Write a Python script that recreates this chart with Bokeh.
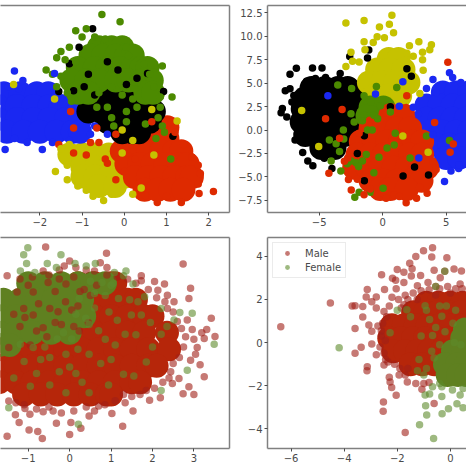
from bokeh.plotting import figure
from bokeh.layouts import gridplot
from bokeh.models import LinearAxis, FixedTicker, Range1d, Legend, LegendItem
from bokeh.embed import file_html
from bokeh.resources import INLINE

# ---- Panel A (top left): dense masses (y -> x values) and individually read points
a_yellow_core = {-1.09: [-1.30, -.99, -.68, -.37], -1.40: [-.99, -.68, -.37, -.06], -1.62: [-.99, -.68, -.37, .02], -1.85: [-.60, -.22]}
a_red_core = {-.43: [1.02], -.70: [.09, .40, .71, 1.02], -1.01: [-.06, .25, .56, .87, 1.18, 1.35],
              -1.32: [.05, .36, .67, .98, 1.29, 1.5], -1.63: [.25, .56, .87, 1.18, 1.49, 1.6], -1.94: [.48, .79, 1.09, 1.40]}
a_blue_core = {.39: [-3.0, -2.85, -2.46, -2.07, -1.8], .08: [-3.0, -2.54, -2.15, -1.77, -1.5, -1.3],
               -.23: [-3.0, -2.54, -2.15, -1.77, -1.38, -1.04], -.54: [-2.78, -2.39, -2.0, -1.61, -1.22, -1.05]}
a_black_core = {.45: [-.25, .1, .45], .2: [-.8, -.45, -.1, .2, .55], -.05: [-.85, -.55, -.25, .1, .4, .7], -.3: [-.4, -.1, .25, .6], -.55: [-.05, .2, .35]}
a_green_core = {1.5: [-.6, -.3, -.05], 1.3: [-.8, -.5, -.2, .05, .2], 1.0: [-1.1, -.7, -.4, -.1, .2, .4, .55],
                .7: [-1.25, -.9, -.6, -.2, .1, .4, .65], .4: [-1.1, -.85, .5, .68]}
a_green_pts = [(-.53, 2.29), (-.10, 2.12), (.90, 1.05), (1.13, .30), (-1.15, 1.9), (-1.0, 1.75), (-.9, 1.95), (-1.5, 1.4), (-1.6, 1.25), (-1.3, 1.5),
               (-1.4, 1.2), (-1.15, 1.15), (-1.85, .95), (-1.7, .85), (-1.5, .8), (-1.6, .55), (-1.35, .4), (-1.25, .2), (-.7, 1.75), (-.45, 1.7),
               (0, 1.68), (.05, 1.5), (.1, 1.3), (.47, 1.1), (.6, .85), (.7, .55), (.85, .3), (.85, .05), (.8, -.2), (.9, -.4), (-.25, -.4), (.5, -.35),
               (.95, -.55), (1.1, -1.2), (.75, -.7), (-.65, .05), (-.4, .05), (-.3, -.2), (.05, -.05), (.3, .05), (-.05, .35), (.2, .25), (.05, -.3), (-.6, .4), (-.3, .55), (.25, .5)]
a_black_pts = [(-.75, 1.95), (-1.07, 1.5), (-1.3, 1.1), (-.15, .95), (.55, .87), (.93, .43), (-1.55, .43), (-1.2, .45), (.47, -.58), (1.15, -.65), (-.95, .55), (-.7, .35), (-.4, 1.15), (-.85, .85), (.3, .75), (.05, .6)]
a_blue_pts = [(-2.6, .93), (-2.4, .7), (-1.65, .87), (-2.6, -.7), (-2.82, -.97), (-1.94, -.97), (-2.3, -.8), (-1.7, -.8), (-.4, -.6), (-.8, -.6), (-.7, -.4), (-1.3, -.75), (-2.75, .55), (-2.5, .5)]
a_red_pts = [(2.11, -1.98), (1.77, -2.03), (.78, -2.25), (1.35, -2.25), (.5, -2.08), (1.0, -2.1), (1.75, -1.8), (1.8, -1.55), (1.75, -1.35), (1.6, -1.15), (1.4, -.85),
             (1.2, -.55), (1.1, -.3), (.65, -.3), (-.65, -.45), (-1.27, -.05), (-1.2, -.45), (-.6, -.8), (-.8, -.8), (-.45, -1.2), (-.4, -1.3), (0, -1.5), (-.2, -1.7),
             (-.9, -1.1), (-1.2, -1.05), (-1.55, -.85), (-.2, -.6), (.25, -1.2)]
a_yellow_pts = [(-2.62, .6), (-1.63, -1.5), (-.74, -2.1), (-.49, -2.2), (.2, -2.05), (.4, -1.9), (1.25, -.28), (.2, -.75), (-.05, -1.05), (-.05, -.5), (-1.5, -.95), (-1.35, -1.35),
                (-1.3, -.85), (-1.35, -1.7), (-1.1, -1.85), (-.9, -1.95), (-.3, -2.05), (.7, -1.1), (.65, 0), (-1.65, .25)]

# ---- Panel B (top right)
b_black_core = {4.5: [-5.6, -4.57, -3.54, -2.76], 3.4: [-6.12, -5.09, -4.06, -3.02, -1.99], 2.27: [-6.3, -5.87, -4.83, -3.8, -2.76, -1.73],
                .87: [-6.38, -5.35, -4.32, -3.28, -2.25], -.52: [-6.1, -5.09, -4.06, -3.02], -1.92: [-4.83, -3.8]}
b_yellow_core = {7.6: [.47, 1.24], 6.47: [-.44, .59, 1.63], 5.07: [-1.09, -.05, .98, 2.02], 3.67: [-.7, .34, 1.37]}
b_blue_core = {4.02: [4.73, 5.76, 6.8], 2.62: [3.44, 4.47, 5.5, 6.54], 1.22: [3.44, 4.47, 5.5, 6.54], -.17: [3.7, 4.73, 5.76, 6.8], -1.57: [4.21, 5.25, 6.28], -2.97: [4.99, 6.02, 7.05]}
b_green_core = {2.4: [-.96, .05], 1.5: [-1.2]}
b_red_core = {1.57: [.6, 1.63], .17: [-.96, .08, 1.11, 2.15], -1.22: [-1.73, -.7, .34, 1.37, 2.4, 3.1], -2.62: [-1.99, -.96, .08, 1.11, 2.15, 3.1],
              -4.02: [-2.25, -1.21, -.18, .85, 1.89, 2.92, 3.5], -5.42: [-.96, .08, 1.11, 2.15, 3.05], -6.3: [-.2, .6, 1.89]}
b_black_pts = [(-6.8, 6.6), (-7.3, 5.95), (-5.53, 6.64), (-4.78, 6.64), (-7.67, 4.2), (-7.3, 4.4), (-7.9, 2.3), (-8.0, 1.85), (-7.55, 1.4), (-7, 3.7), (-7.15, 3), (-7, 1.05),
               (-6.9, -1.05), (-6.3, -2.4), (-5.9, -3.3), (-5.5, -3.8), (-4.6, -3), (-4, -4.1), (-3.35, 6.05), (-2.6, 7.85), (-1.2, 7.7), (-1.1, 8.55), (1.9, 6.55), (2.25, 5.75),
               (.6, 2.5), (-1.45, -.6), (-2, -2.5), (-1.45, -5.4), (2.5, -3.95), (3.6, -4.8), (1.6, -4.9), (-6.4, 3.0), (-6.6, 1.4), (-6.3, -.2), (-6.0, 5.2), (-4.5, 5.6), (-5.3, 5.5)]
b_yellow_pts = [(-2.9, 11.43), (-1.47, 11.7), (.72, 12.27), (-.26, 11), (.52, 11.3), (.85, 10.4), (.13, 9.86), (-.44, 9.96), (-1.47, 9.44), (-.75, 9.34), (-1.4, 8.57), (-2.5, 8.3),
                (-2.9, 6.8), (-2.38, 7.34), (-1.86, 7.27), (2.84, 9.44), (2.1, 9), (3.83, 9.1), (3.7, 8.57), (3.13, 8.3), (3.13, 7.5), (1.9, 8.2), (2.4, 7.87), (3.18, 6.4),
                (1.63, 3.15), (2.92, 3.9), (1.58, -.63), (3.57, -2.38), (-5.04, -1.75), (-6.38, 2.1)]
b_green_pts = [(-3.54, 4.8), (-2.45, 4.44), (-.5, 4.65), (1.1, 4.55), (-1.47, 3.67), (-.96, 2.97), (-.18, 2.6), (.6, 1.92), (-2.5, 1.75), (-2.25, .87), (-1.47, 1.57), (-.7, 1.57),
               (-3.1, 0), (-4.2, -1.05), (-3.07, -.94), (-3.67, -1.47), (-4.06, -3.3), (-3.3, -4.37), (-2.2, -7.17), (-1.86, -6.64), (-.96, -6.64), (.03, -6.2), (-.7, -4.55),
               (-2.1, -3.5), (-1.6, -3.3), (-2.5, -3.3), (-1.2, 0), (-.83, 0), (.98, -.35), (.34, -1.92), (3.44, -.63), (2.15, -2.97), (5.25, -1.1), (-2.8, -3.6), (-1.9, -3.9), (-1.3, -2.6), (-.3, -2.9), (.9, -1.6), (-1.6, 1.0), (-.4, 1.2), (-3.4, -2.3)]
b_blue_pts = [(5.25, 6.12), (5.5, 5.6), (6.15, 5.07), (3.95, 5.4), (3.44, 4.44), (4.21, 4), (-4.32, 3.67), (-.57, 3.85), (1.58, 5.17), (1.3, 2.55), (2.4, 2.45), (2.84, -2.97),
              (4.86, -5.49), (5.37, -4.37), (5.97, -4.09), (3.95, -.5), (2.8, 1.75), (6.0, -3.7)]
b_red_pts = [(5.12, 7.24), (-4.24, -4.6), (-2.7, -5.28), (-2.48, -6.4), (1.84, -7.76), (.26, -7.27), (2.66, -7.27), (3.49, -6.75), (-1.47, -6.9), (-.44, -6.8), (-2, -5.24), (4.2, -4.2),
             (3.95, -3.32), (-4.5, 1.22), (-3.2, 2.2), (4.08, .8), (5.3, -2.38), (5.55, -1.5), (-3.4, -.87), (-2.76, -2.97), (-3.02, -3.32), (1.89, 3.67), (-1.86, -.35), (.9, -6.9), (1.3, -7.1), (-1.0, -6.3), (2.9, -6.1)]

# ---- Panel C (bottom left)
c_male_core = {1.4: [.2, .6, 1.0, 1.1], 1.0: [-.2, .2, .6, 1.0, 1.4, 1.6], .6: [.2, .6, 1.0, 1.4, 1.8, 2.0], .2: [-.6, -.2, .2, .6, 1, 1.4, 1.8, 2.35],
               -.2: [-1.7, -1.3, -.9, -.5, -.1, .3, .7, 1.1, 1.5, 1.9, 2.4], -.6: [-1.7, -1.3, -.9, -.5, -.1, .3, .7, 1.1, 1.5, 1.9, 2.1],
               -1.0: [-1.7, -1.3, -.9, -.5, -.1, .3, .7, 1.1, 1.5, 1.7], -1.3: [-1.1, -.7, -.3, .1, .5, .9, 1.0]}
c_female_core = {1.4: [-1.0, -.6, -.2, .2, .55, .85], 1.0: [-1.6, -1.2, -.8, -.4, -.1, .3], .6: [-1.7, -1.3, -.9, -.5, -.1, .35], .2: [-1.7, -1.3, -.9, -.45, 0], -.1: [-1.7, -1.45]}
c_male_pts = [(-.58, 2.28), (.89, 2.13), (2.74, 1.87), (2.92, 1.28), (2.88, 1.03), (3.42, .55), (3.31, .28), (3.51, .11), (3.19, .2), (3.25, .06), (3, .04), (3.08, -.16), (3.04, -.32),
              (2.92, -.47), (3.15, -.58), (3.25, -.87), (2.88, -1.11), (2.74, -1.28), (3, -1.3), (2.48, -1.03), (2.64, -.91), (2.44, -.75), (2.19, -1.38), (1.93, -1.44), (1.53, -1.7),
              (1.28, -2.07), (1.02, -1.76), (.7, -1.58), (.47, -1.82), (.27, -2.12), (.03, -1.98), (0, -2.27), (-.32, -2), (-.64, -1.72), (-.66, -2.37), (-.77, -2.2), (-.98, -2.16),
              (-1.22, -1.98), (-1.51, -2.31), (-1.31, -1.79), (-.96, -1.78), (-1.08, -1.64), (-1.47, -1.46), (-.4, -1.7), (1.34, -1.5), (1.73, 1.58), (2.05, 1.44), (2.29, 1.38), (2.13, 1.23),
              (2.36, 1.11), (2.52, .95), (2.36, .79), (2.6, .47), (2.84, .51), (2.96, .28), (.74, 1.9), (.9, 1.78), (0, 1.94), (-.13, 1.82), (-1.51, 1.58), (-.64, 1.7), (1.73, 1.46),
              (-1.08, .57), (-.64, .32), (-.52, 1.42), (-1.27, 1.19), (-.88, .63), (-.28, .71), (.23, .24), (-1.11, .79), (-1.47, -.16), (-.8, .24), (-.48, .79), (-.09, 1.38), (-.88, 1.19),
              (-1.3, -1.5), (-1.1, -1.55), (-.8, -1.65), (-.5, -1.6), (-.2, -1.75), (.1, -1.7), (.4, -1.6), (.6, -1.7), (.85, -1.55), (1.1, -1.45), (1.3, -1.3), (1.5, -1.35), (1.7, -1.3),
              (1.85, -1.2), (2.05, -1.15), (2.25, -1.0), (2.4, -.9), (2.5, -.55), (2.65, -.4), (2.75, -.15), (2.8, .1), (2.7, .3), (2.5, .7), (2.3, .95), (2.1, 1.05), (1.9, 1.25), (1.6, 1.4),
              (1.4, 1.5), (1.15, 1.55), (.9, 1.6), (.6, 1.7), (.4, 1.72), (.15, 1.78), (-.25, 1.72), (-.5, 1.6), (-.9, 1.55), (-1.2, 1.5),
              (-.1, .95), (-.35, 1.2), (-.75, .9), (-1.2, .35), (-.55, .1), (-1.35, .65), (-1.0, 1.35), (-.25, 1.5), (.1, 1.55), (.35, 1.25), (.05, .75), (-.2, .4), (-.95, -.1),
              (.5, 1.1), (.2, .85), (.45, .45), (.1, .35), (.65, 1.35), (.25, 1.2), (-.35, .45)]
c_female_pts = [(-1.01, 2.26), (-1.11, 2.09), (-.21, 2.09), (-1.04, 1.88), (-.54, 1.88), (.13, 1.88), (.62, 1.88), (.4, 1.82), (1.08, 1.66), (1.36, 1.7), (1.3, 1.58), (1.53, 1.38),
                (1.81, 1.07), (2.21, .79), (2.66, .69), (2.96, .67), (2.52, .51), (3.49, -.08), (2.84, -.71), (2.21, -1.2), (.21, -2.02), (-1.47, -1.62), (-1.19, 1.7), (-.84, 1.66), (-.32, 1.78),
                (1.3, -.81), (1.85, -.51), (-.09, -1.26), (-.48, -1.07), (.15, -.79), (.47, -1.26), (0, -.63), (-.8, -.79), (.94, -1.07), (.86, .04), (.47, -.32), (.47, .4), (1.34, .16),
                (1.49, .63), (1.73, .63), (.86, 1.1), (1.18, 1.03), (.78, 1.42), (.23, 1.03), (.39, .55), (-.09, -.32), (-.48, -.4), (-.88, -.16), (-1.19, -.08), (2.21, .16), (1.0, 1.35), (.6, .8), (.05, .05), (-.3, .05),
                (.95, .7), (1.15, .5), (.7, .25), (.15, .65), (.6, 1.15), (1.45, 1.0), (1.65, .95), (1.95, .45), (1.6, .15), (1.1, -.1), (.75, -.55), (.2, -.2), (-.25, -.75), (-.7, -.45), (-1.1, -.5),
                (-1.35, -.9), (-.95, -1.1), (.3, -1.0), (1.0, -.45), (1.55, -.85), (2.0, -.15), (2.35, .35), (1.05, 1.4), (.5, 1.45), (-.15, .2), (-.6, -.15)]

# ---- Panel D (bottom right)
d_male_core = {1.85: [-.9, -.45, 0, .45], 1.4: [-1.4, -.95, -.5, -.05, .4], .8: [-2.2, -1.75, -1.3, -.85, -.4, .05, .5], .2: [-2.3, -1.85, -1.4, -.95, -.5, -.05, .4],
               -.4: [-2.15, -1.7, -1.25, -.8, -.35, 0], -1.0: [-1.5, -1.05, -.6, -.15]}
d_female_core = {.6: [.55], .2: [.45], -.4: [.1, .5], -1.0: [-.2, .25, .6], -1.5: [-.1, .3, .6]}
d_male_pts = [(-6.39, .73), (-4.52, 1.83), (-3.7, 1.7), (-3.59, 1.71), (-3.3, 1.67), (-2.96, 1.89), (-3.13, 2.46), (-3.17, 2.11), (-2.79, 2.11), (-2.59, 3.14), (-2.48, 2.46), (-2.18, 2.98),
              (-2.06, 2.89), (-2, 3.39), (-1.75, 3.26), (-1.53, 3.68), (-1.44, 3.42), (-1.3, 3.99), (-1.01, 4.26), (-.67, 4.4), (-.7, 3.97), (-.13, 3.93), (-.61, 3.35), (.14, 3.41), (.42, 3.32),
              (-.21, 3.3), (-1.12, 3.11), (-1.47, 3.08), (-1.75, 2.78), (-.84, 2.78), (-.38, 3), (.37, 2.71), (-.55, 2.6), (-3.59, .65), (-3.3, 1.18), (-3.07, .82), (-2.96, .52), (-2.96, -.07),
              (-3.36, -.22), (-3.59, -.49), (-2.79, -.57), (-2.5, -1.04), (-3.13, -1.12), (-3.14, -1.31), (-2.3, -1.61), (-2.27, -1.83), (-2.21, -2.08), (-2.04, -2.44), (-2.52, -2.75), (-2.53, -3.18),
              (-1.7, -4.17), (-.61, -2.83), (-1.07, -2.16), (-1.62, -1.83), (-1.93, -1.5), (-2.44, -.79), (-2.73, .77), (-2.5, 1.44), (-2.79, 1.6), (-2.04, 2.49), (-1.7, 2.19), (-1.24, 2.63),
              (-2.6, .3), (-2.55, .9), (-2.4, 1.2), (-2.3, 1.7), (-2.2, 2.1), (-1.95, 2.0), (-1.85, 1.6), (-1.6, 2.0), (-1.4, 2.3), (-1.1, 2.4), (-.8, 2.45), (-.4, 2.5), (-.1, 2.6), (.2, 2.5), (.45, 2.5),
              (-2.65, -.2), (-2.5, -.5), (-2.35, -.9), (-2.1, -1.0), (-1.9, -1.2), (-1.7, -1.5), (-1.6, -1.2), (-1.3, -1.9), (-1.0, -1.9), (-.8, -1.85), (-2.45, .1), (-2.6, .55), (-1.75, 1.75), (-1.25, 2.0), (-.55, 2.2), (0, 2.3)]
d_female_pts = [(-4.19, -.24), (-.63, -4.45), (-1.16, -3.81), (-.89, -3.36), (-.93, -2.93), (-.31, -3.3), (-.07, -3.07), (.25, -2.84), (.48, -3.02), (-.32, -2.5), (-.78, -2.38), (-.95, -2.43),
                (-.67, -2.05), (-.32, -2.05), (.08, -2.2), (.37, -2.43), (.48, -2.13), (-1.24, -1.31), (-.61, -.71), (-.21, 3.3), (-.55, 2.6), (-.95, 1.71), (-1.64, 1.52), (-2.27, .45), (-1.18, -.79),
                (-.78, 1.07), (-.32, 1.22), (-.67, .33), (-.2, .5), (.1, .9), (-1.0, -1.5), (-.4, -1.9), (.2, 1.5), (.4, -.1),
                (-1.1, .3), (-.9, 1.5), (-.4, -.1), (-.7, -.4), (-1.5, 1.2), (-2.0, 1.5), (-.4, 1.7), (-.9, -1.2), (-.15, 1.7), (.15, 0), (-.55, .7)]

# ---- Axis ticks
a_xticks = [-2, -1, 0, 1, 2]
b_xticks = [-5, 0, 5]
b_yticks = [-7.5, -5.0, -2.5, 0.0, 2.5, 5.0, 7.5, 10.0, 12.5]
c_xticks = [-1, 0, 1, 2, 3]
d_xticks = [-6, -4, -2, 0]
d_yticks = [-4, -2, 0, 2, 4]

BLUE, GREEN, RED, YEL, BLK = "#1a28f2", "#4c8a00", "#de2a00", "#c6c200", "#000000"
MALE, FEMALE = "#a01f18", "#5e8a2c"
MALE_C, FEMALE_C = "#b6260a", "#5f8020"
FRAME, TICK = "#808080", "#4a4a4a"
CORE, SMALL = 24, 7.5


def rows(d):
    return [x for y in d for x in d[y]], [y for y in d for x in d[y]]


def label(v):
    return str(v).replace("-", "\u2212")


def panel(w, h, xr, yr, xt, yt, borders):
    l, r, t, b = borders
    p = figure(width=w, height=h, output_backend="svg", toolbar_location=None,
               x_range=Range1d(*xr), y_range=Range1d(*yr),
               x_axis_location=None, y_axis_location=None,
               min_border_left=l, min_border_right=r, min_border_top=t, min_border_bottom=b)
    p.grid.visible = False
    p.outline_line_color = None
    p.background_fill_color = "white"

    def axis(ticks, side):
        a = LinearAxis(ticker=FixedTicker(ticks=ticks), axis_line_color=FRAME, axis_line_width=1.5,
                       major_tick_line_color=TICK, major_tick_in=0, major_tick_out=3,
                       minor_tick_line_color=None, major_label_text_color=TICK,
                       major_label_text_font="DejaVu Sans", major_label_text_font_size="10px",
                       major_label_standoff=2,
                       major_label_overrides={v: label(v) for v in ticks})
        p.add_layout(a, side)

    axis(xt, "below")
    if yt is not None:
        axis(yt, "left")
    axis([], "above")
    return p, axis


def dots(p, pts, color, size, alpha=1.0):
    return p.scatter([q[0] for q in pts], [q[1] for q in pts], size=size, color=color, alpha=alpha, line_width=0)


def core(p, d, color, size):
    x, y = rows(d)
    return p.scatter(x, y, size=size, color=color, line_width=0)


# Panel A
a, a_axis = panel(233, 233, (-2.93, 2.49), (-2.49, 2.51), a_xticks, None, (0, 4, 2, 20))
a_axis([], "right")
core(a, a_yellow_core, YEL, CORE)
core(a, a_red_core, RED, CORE)
core(a, a_blue_core, BLUE, CORE)
core(a, a_black_core, BLK, CORE)
core(a, a_green_core, GREEN, CORE)
dots(a, a_black_pts, BLK, SMALL)
dots(a, a_green_pts, GREEN, SMALL)
dots(a, a_blue_pts, BLUE, SMALL)
dots(a, a_red_pts, RED, SMALL)
dots(a, a_yellow_pts, YEL, SMALL)

# Panel B
b, _ = panel(233, 233, (-9.07, 6.59), (-8.8, 13.3), b_xticks, b_yticks, (34, 0, 5, 21))
core(b, b_black_core, BLK, CORE)
core(b, b_yellow_core, YEL, CORE)
core(b, b_blue_core, BLUE, CORE)
core(b, b_green_core, GREEN, CORE)
core(b, b_red_core, RED, CORE)
dots(b, b_black_pts, BLK, SMALL)
dots(b, b_yellow_pts, YEL, SMALL)
dots(b, b_green_pts, GREEN, SMALL)
dots(b, b_blue_pts, BLUE, SMALL)
dots(b, b_red_pts, RED, SMALL)

# Panel C
c, c_axis = panel(233, 233, (-1.67, 3.86), (-2.61, 2.51), c_xticks, None, (0, 4, 4, 17))
c_axis([], "right")
core(c, c_male_core, MALE_C, CORE)
core(c, c_female_core, FEMALE_C, CORE)
dots(c, c_male_pts, MALE, SMALL, 0.6)
dots(c, c_female_pts, FEMALE, SMALL, 0.6)

# Panel D
d, d_axis = panel(233, 233, (-6.89, 0.61), (-4.91, 4.87), d_xticks, d_yticks, (19, 0, 1, 18))
core(d, d_male_core, MALE_C, CORE)
core(d, d_female_core, FEMALE_C, CORE)
r_m = dots(d, d_male_pts, MALE, SMALL, 0.6)
r_f = dots(d, d_female_pts, FEMALE, SMALL, 0.6)
leg = Legend(items=[LegendItem(label="Male", renderers=[r_m]), LegendItem(label="Female", renderers=[r_f])],
             location="top_left", label_text_font="DejaVu Sans", label_text_font_size="10px", label_text_color=TICK,
             border_line_color="#d8d8d8", background_fill_alpha=0.9, margin=5, padding=4, spacing=2,
             glyph_width=20, label_standoff=8, label_height=12, glyph_height=12)
d.add_layout(leg)

grid = gridplot([[a, b], [c, d]], toolbar_location=None)
open("out.html", "w").write(file_html(grid, INLINE))
